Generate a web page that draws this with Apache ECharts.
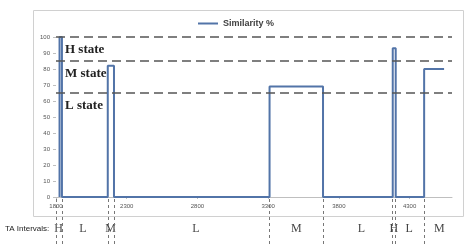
<!DOCTYPE html>
<html><head><meta charset="utf-8">
<script src="https://cdn.jsdelivr.net/npm/echarts@6/dist/echarts.min.js"></script>
<style>html,body{margin:0;padding:0;background:#fff}#c{width:474px;height:244px}</style>
</head><body><div id="c"></div>
<script>
// Similarity % step signal: [time, value]
var simX = [1825, 1825, 1842, 1842, 2166, 2166, 2210, 2210, 3310, 3310, 3688, 3688, 4181, 4181, 4202, 4202, 4403, 4403, 4544];
var simY = [0, 100, 100, 0, 0, 82, 82, 0, 0, 69, 69, 0, 0, 93, 93, 0, 0, 80, 80];
// state thresholds
var stateNames = ['H state', 'M state', 'L state'];
var stateLevels = [100, 85, 65];
// TA interval boundaries and letters
var boundaries = [1800, 1842, 2166, 2210, 3308, 3688, 4179, 4202, 4403];
var intervalLetters = ['H', 'L', 'M', 'L', 'M', 'L', 'H', 'L', 'M'];
var intervalX = [1818, 1990, 2186, 2790, 3500, 3960, 4188, 4298, 4510];
var xTicks = [1800, 2300, 2800, 3300, 3800, 4300];

var chart = echarts.init(document.getElementById('c'), null, {renderer: 'canvas'});
var serif = '"Liberation Serif","DejaVu Serif",serif';
var option = {
  animation: false,
  graphic: [{type: 'rect', shape: {x: 33.5, y: 10.5, width: 430, height: 206}, style: {fill: 'none', stroke: '#d0d0d0', lineWidth: 1}, silent: true}],
  title: {text: 'TA Intervals:', left: 5, top: 225, padding: 0, textStyle: {fontSize: 8, fontWeight: 'normal', color: '#222', fontFamily: 'Liberation Sans, Arial, sans-serif'}},
  legend: {left: 193, top: 14, itemWidth: 20, itemHeight: 2, itemGap: 4, data: ['Similarity %'],
    textStyle: {fontSize: 9, fontWeight: 'bold', color: '#404040', fontFamily: 'Liberation Sans, Arial, sans-serif'}, icon: 'rect'},
  grid: [
    {left: 56, right: 22, top: 37, bottom: 47},
    {left: 56, right: 22, top: 199, height: 45}
  ],
  xAxis: [
    {type: 'value', gridIndex: 0, min: 1800, max: 4600,
      axisLine: {lineStyle: {color: '#bfbfbf'}}, splitLine: {show: false},
      axisTick: {customValues: xTicks, length: 2, lineStyle: {color: '#bfbfbf'}},
      axisLabel: {customValues: xTicks, fontSize: 6, color: '#555', margin: 6, formatter: function (v) { return String(v); }}},
    {type: 'value', gridIndex: 1, min: 1800, max: 4600, show: false}
  ],
  yAxis: [
    {type: 'value', gridIndex: 0, min: 0, max: 100, interval: 10,
      axisLine: {show: false}, splitLine: {show: false},
      axisTick: {show: true, length: 3, lineStyle: {color: '#bfbfbf'}},
      axisLabel: {fontSize: 6, color: '#555', margin: 6}},
    {type: 'value', gridIndex: 1, min: 0, max: 1, show: false}
  ],
  series: [
    {name: 'Similarity %', type: 'line', xAxisIndex: 0, yAxisIndex: 0, symbol: 'none',
      lineStyle: {color: '#5274a8', width: 2}, itemStyle: {color: '#5274a8'},
      data: simX.map(function (x, i) { return [x, simY[i]]; }),
      markLine: {silent: true, symbol: 'none',
        lineStyle: {color: '#555', width: 1.5, type: [9, 5]},
        label: {show: true, position: 'insideStartBottom', distance: [9, 6], fontSize: 13, fontWeight: 'bold', fontFamily: serif, color: '#222',
          formatter: function (p) { return p.name; }},
        data: stateLevels.map(function (v, i) { return {yAxis: v, name: stateNames[i]}; })}
    },
    {name: 'TA', type: 'scatter', xAxisIndex: 1, yAxisIndex: 1, symbolSize: 0,
      data: intervalX.map(function (x, i) { return {value: [x, 0.33], name: intervalLetters[i]}; }),
      label: {show: true, position: 'inside', formatter: function (p) { return p.name; }, fontSize: 12, fontFamily: serif, color: '#111'},
      markLine: {silent: true, symbol: 'none', label: {show: false},
        lineStyle: {color: '#777', width: 1, type: [3, 3]},
        data: boundaries.map(function (b) { return {xAxis: b}; })}
    }
  ]
};
chart.setOption(option);
</script></body></html>
